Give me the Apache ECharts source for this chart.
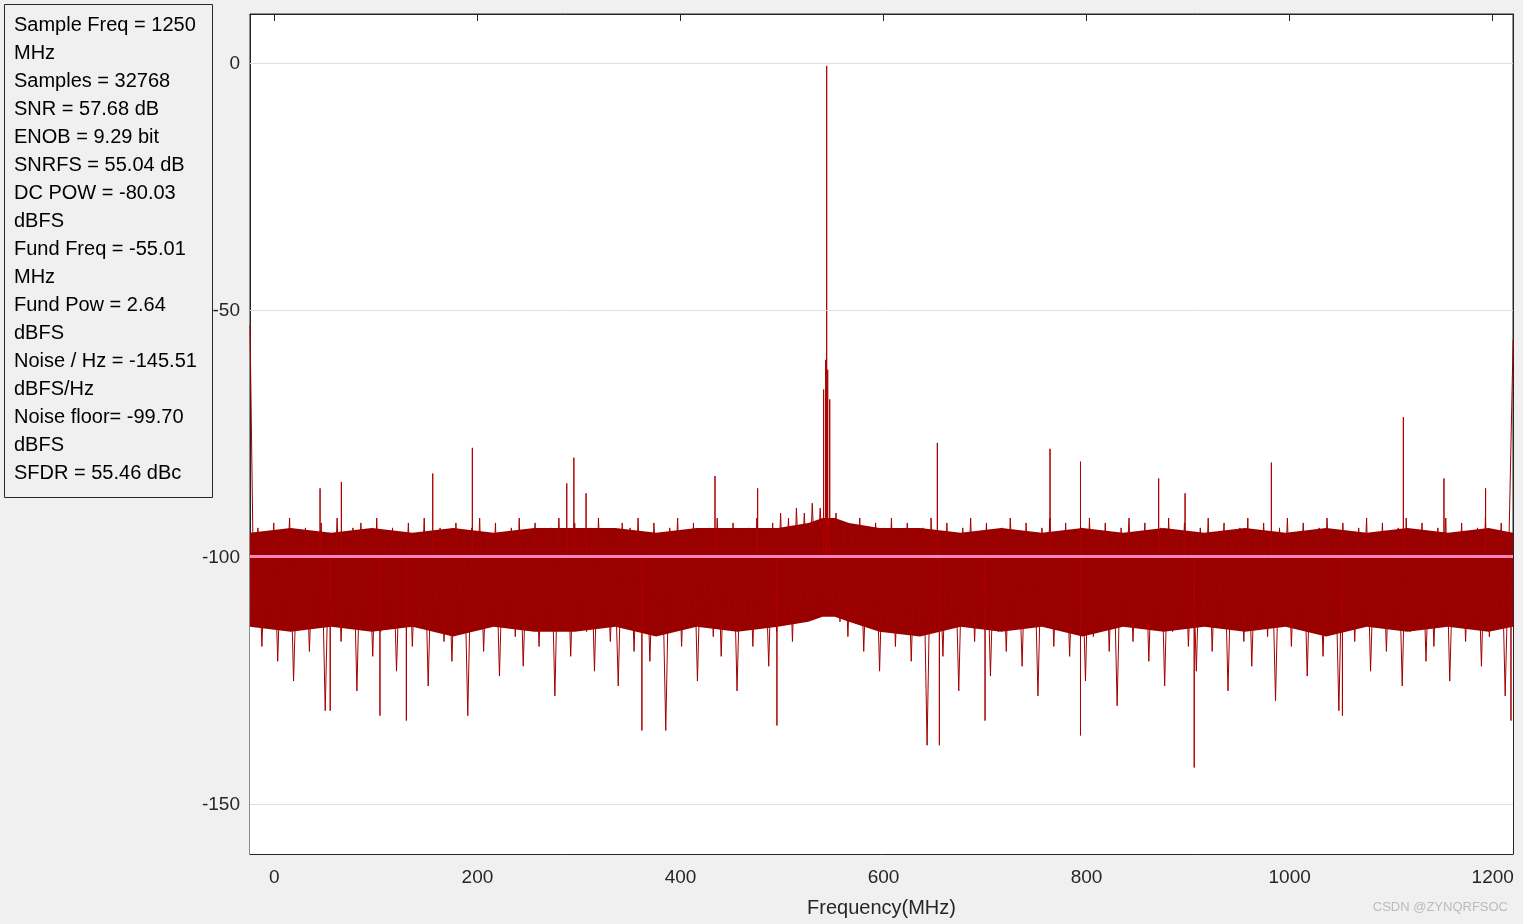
<!DOCTYPE html>
<html><head><meta charset="utf-8">
<script src="https://cdn.jsdelivr.net/npm/echarts@6/dist/echarts.min.js"></script>
<style>html,body{margin:0;padding:0;background:#f0f0f0}#c{width:1523px;height:924px}</style>
</head><body><div id="c"></div>
<script>
const freqStart = -24, freqStep = 3.9;
const noiseValues = [
-53,-112,-94,-118,-96,-110,-93,-121,-95,-109,-92,-125,-97,-113,-94,-119,-96,-108,-93,-131,
-95,-114,-92,-117,-97,-111,-94,-127,-93,-110,-96,-120,-92,-115,-95,-109,-94,-123,-97,-112,
-93,-118,-96,-113,-92,-126,-95,-110,-94,-117,-97,-121,-93,-108,-95,-132,-94,-114,-92,-119,
-96,-111,-93,-124,-95,-109,-94,-116,-92,-122,-97,-112,-93,-118,-96,-110,-94,-128,-92,-113,
-95,-120,-93,-109,-96,-115,-94,-123,-92,-111,-95,-117,-97,-126,-93,-110,-94,-119,-92,-114,
-96,-121,-93,-108,-95,-135,-94,-113,-92,-118,-96,-112,-93,-125,-95,-109,-94,-116,-92,-120,
-95,-111,-93,-127,-96,-113,-94,-118,-92,-110,-95,-122,-93,-115,-91,-112,-92,-117,-90,-109,
-91,-111,-89,-108,-90,-106,-92,-110,-91,-113,-93,-116,-94,-112,-92,-119,-95,-110,-93,-123,
-94,-114,-92,-118,-96,-109,-93,-121,-95,-113,-94,-138,-92,-115,-96,-120,-93,-111,-95,-127,
-94,-112,-92,-117,-96,-110,-93,-124,-95,-115,-94,-119,-92,-109,-96,-122,-93,-114,-95,-128,
-94,-111,-92,-118,-96,-113,-93,-120,-95,-110,-94,-125,-92,-116,-96,-112,-93,-119,-95,-130,
-94,-109,-92,-117,-96,-114,-93,-121,-95,-111,-94,-126,-92,-115,-96,-110,-93,-118,-95,-123,
-94,-113,-92,-119,-96,-108,-93,-127,-95,-114,-94,-117,-92,-122,-96,-111,-93,-116,-95,-129,
-94,-112,-92,-118,-96,-110,-93,-124,-95,-115,-94,-120,-92,-109,-96,-131,-93,-113,-95,-117,
-94,-111,-92,-123,-96,-114,-93,-119,-95,-110,-94,-126,-92,-115,-96,-112,-93,-121,-95,-118,
-94,-109,-92,-125,-96,-113,-93,-117,-95,-111,-94,-122,-92,-116,-96,-112,-93,-128,-95,-56
];
const bandFreqs = [-24,16,56,96,136,176,216,256,296,336,376,416,456,496,526,540,552,566,596,636,676,716,756,796,836,876,916,956,996,1036,1076,1116,1156,1196,1220];
const bandUpper = [-95,-94,-95,-94,-95,-94,-95,-94,-94,-94,-95,-94,-94,-94,-93,-92,-92,-93,-94,-94,-95,-94,-95,-94,-95,-94,-95,-94,-95,-94,-95,-94,-95,-94,-95];
const bandLower = [-114,-115,-114,-115,-114,-116,-114,-115,-115,-114,-116,-114,-115,-114,-113,-112,-112,-113,-115,-116,-114,-115,-114,-116,-114,-115,-114,-115,-114,-116,-114,-115,-114,-115,-114];
const spurFreqs  = [45,66,156,195,288,295,307,434,476,541,543,544,545,547,653,764,794,871,897,982,1112,1152,1193,55,104,130,362,495,655,700,794,906,1052,1218];
const spurValues = [-86,-84.7,-83,-77.8,-85,-79.8,-87,-83.5,-86,-66,-60,-0.5,-62,-68,-76.8,-78,-80.6,-84,-87,-80.8,-71.6,-84,-86,-131,-132,-133,-135,-134,-138,-133,-136,-142.5,-132,-133];
const xTicks = [0,200,400,600,800,1000,1200];
const yTicks = [-150,-100,-50,0];
const noiseFloor = -99.7;
const infoLines = ['Sample Freq = 1250','MHz','Samples = 32768','SNR = 57.68 dB','ENOB = 9.29 bit','SNRFS = 55.04 dB','DC POW = -80.03','dBFS','Fund Freq = -55.01','MHz','Fund Pow = 2.64','dBFS','Noise / Hz = -145.51','dBFS/Hz','Noise floor= -99.70','dBFS','SFDR = 55.46 dBc'];

const noiseData = noiseValues.map((v,i)=>[freqStart+i*freqStep, v]);
const spurData = [];
spurFreqs.forEach((f,i)=>{ spurData.push([f,-100],[f,spurValues[i]],[f,-100],'-'); });
const upperData = bandFreqs.map((f,i)=>[f,bandUpper[i]]);
const lowerData = bandFreqs.map((f,i)=>[f,bandLower[i]]);

const font = 'Liberation Sans, Arial, sans-serif';
const chart = echarts.init(document.getElementById('c'));
const tickStyle = {color:'#262626'};
const fmt = v => String(v);
chart.setOption({
  backgroundColor:'#f0f0f0',
  animation:false,
  grid:{left:250,right:10,top:14,bottom:70,backgroundColor:'#fff',show:true,borderColor:'#262626',borderWidth:1},
  xAxis:[{type:'value',min:-24,max:1220,position:'bottom',
    axisLine:{onZero:false,lineStyle:tickStyle},
    axisTick:{inside:true,length:7,customValues:xTicks,lineStyle:tickStyle},
    axisLabel:{customValues:xTicks,formatter:fmt,fontSize:19,color:'#262626',fontFamily:font,margin:14},
    splitLine:{show:false},
    name:'Frequency(MHz)',nameLocation:'middle',nameGap:44,nameTextStyle:{fontSize:20,color:'#262626',fontFamily:font}},
   {type:'value',min:-24,max:1220,position:'top',axisLine:{onZero:false,lineStyle:tickStyle},
    axisTick:{inside:true,length:7,customValues:xTicks,lineStyle:tickStyle},axisLabel:{show:false},splitLine:{show:false}}],
  yAxis:[{type:'value',min:-160,max:10,
    axisLine:{show:true,onZero:false,lineStyle:tickStyle},
    axisTick:{show:true,inside:true,length:7,customValues:yTicks,lineStyle:tickStyle},
    axisLabel:{customValues:yTicks,formatter:fmt,fontSize:19,color:'#262626',fontFamily:font,margin:10},
    splitLine:{show:false}},
   {type:'value',min:-160,max:10,position:'right',axisLine:{show:true,onZero:false,lineStyle:tickStyle},
    axisTick:{show:true,inside:true,length:7,customValues:yTicks,lineStyle:tickStyle},axisLabel:{show:false},splitLine:{show:false}}],
  series:[
    {type:'line',data:upperData,showSymbol:false,lineStyle:{width:0},areaStyle:{color:'#990000',opacity:1,origin:'start'},z:1},
    {type:'line',data:lowerData,showSymbol:false,lineStyle:{width:0},areaStyle:{color:'#ffffff',opacity:1,origin:'start'},z:1},
    {type:'line',data:[],z:2,markLine:{silent:true,symbol:'none',label:{show:false},
       data:yTicks.map(v=>({yAxis:v,lineStyle:{color:'#e0e0e0',width:1,type:'solid'}}))}},
    {type:'line',data:noiseData,showSymbol:false,lineStyle:{color:'#a00000',width:1},z:3},
    {type:'line',data:spurData,showSymbol:false,connectNulls:false,lineStyle:{color:'#aa0000',width:1},z:3},
    {type:'line',data:[],z:4,markLine:{silent:true,symbol:'none',label:{show:false},
      data:[{yAxis:noiseFloor,lineStyle:{color:'#ff88bb',width:3,type:'solid'}}]}}
  ],
  graphic:[
    {type:'rect',left:4,top:4,shape:{width:208,height:493},style:{fill:'#f0f0f0',stroke:'#262626',lineWidth:1}},
    ...infoLines.map((t,i)=>({type:'text',left:14,top:15+i*28,style:{text:t,fontSize:20,fill:'#000',fontFamily:font}})),
    {type:'text',right:15,bottom:10,style:{text:'CSDN @ZYNQRFSOC',fontSize:13,fill:'#bbbbbb',fontFamily:font}}
  ]
});
</script></body></html>
